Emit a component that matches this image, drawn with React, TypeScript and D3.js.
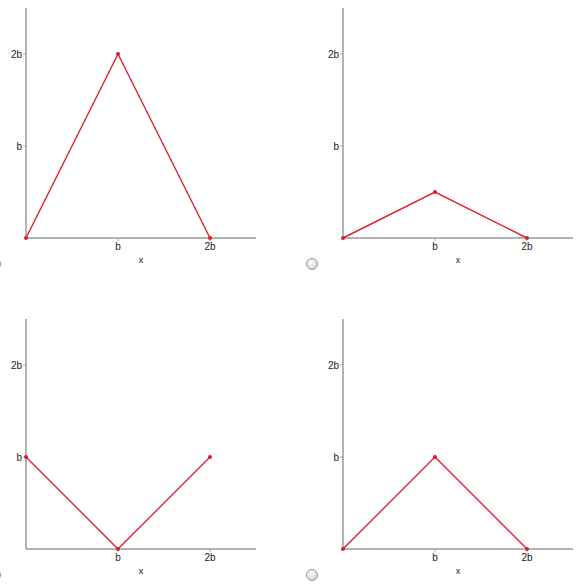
import { useEffect, useRef } from "react";
import * as d3 from "d3";

// tick labels (value in units of b)
const tickValues = [1, 2];
const tickLabels = ["b", "2b"];

// each option: x and y values (in units of b)
const optionA_x = [0, 1, 2];
const optionA_y = [0, 2, 0];
const optionB_x = [0, 1, 2];
const optionB_y = [0, 0.5, 0];
const optionC_x = [0, 1, 2];
const optionC_y = [1, 0, 1];
const optionD_x = [0, 1, 2];
const optionD_y = [0, 1, 0];

const panels = [
  { xs: optionA_x, ys: optionA_y, left: 26, top: 8 },
  { xs: optionB_x, ys: optionB_y, left: 343, top: 8 },
  { xs: optionC_x, ys: optionC_y, left: 26, top: 319 },
  { xs: optionD_x, ys: optionD_y, left: 343, top: 319 },
];

export default function App() {
  const svgRef = useRef<SVGSVGElement>(null);

  useEffect(() => {
    if (!svgRef.current) return;
    const svg = d3.select(svgRef.current);
    svg.selectAll("*").remove();

    const size = 230;
    const axisColor = "#666";
    const red = "#e0202c";

    const defs = svg.append("defs");
    const grad = defs
      .append("radialGradient")
      .attr("id", "radioGrad")
      .attr("cx", "40%")
      .attr("cy", "35%")
      .attr("r", "70%");
    grad.append("stop").attr("offset", "0%").attr("stop-color", "#ffffff");
    grad.append("stop").attr("offset", "100%").attr("stop-color", "#cfcfcf");

    panels.forEach((p) => {
      const g = svg
        .append("g")
        .attr("transform", `translate(${p.left},${p.top})`);

      const x = d3.scaleLinear().domain([0, 2.5]).range([0, size]);
      const y = d3.scaleLinear().domain([0, 2.5]).range([size, 0]);

      // axes lines
      g.append("line")
        .attr("x1", x(0))
        .attr("x2", x(2.5))
        .attr("y1", y(0))
        .attr("y2", y(0))
        .attr("stroke", axisColor)
        .attr("stroke-width", 1);
      g.append("line")
        .attr("x1", x(0))
        .attr("x2", x(0))
        .attr("y1", y(0))
        .attr("y2", y(2.5))
        .attr("stroke", axisColor)
        .attr("stroke-width", 1);

      // y ticks
      tickValues.forEach((v, i) => {
        g.append("line")
          .attr("x1", x(0) - 3)
          .attr("x2", x(0))
          .attr("y1", y(v))
          .attr("y2", y(v))
          .attr("stroke", "#aaa");
        g.append("text")
          .attr("x", x(0) - 4)
          .attr("y", y(v) + 3.5)
          .attr("text-anchor", "end")
          .attr("font-family", "Liberation Sans, Arial, sans-serif")
          .attr("font-size", 10)
          .attr("fill", "#222")
          .text(tickLabels[i]);

        g.append("line")
          .attr("x1", x(v))
          .attr("x2", x(v))
          .attr("y1", y(0))
          .attr("y2", y(0) + 3)
          .attr("stroke", "#aaa");
        g.append("text")
          .attr("x", x(v))
          .attr("y", y(0) + 12)
          .attr("text-anchor", "middle")
          .attr("font-family", "Liberation Sans, Arial, sans-serif")
          .attr("font-size", 10)
          .attr("fill", "#222")
          .text(tickLabels[i]);
      });

      // x axis title
      g.append("text")
        .attr("x", x(1.25))
        .attr("y", y(0) + 25)
        .attr("text-anchor", "middle")
        .attr("font-family", "Liberation Sans, Arial, sans-serif")
        .attr("font-size", 9)
        .attr("fill", "#222")
        .text("x");

      const pts = p.xs.map((v, i) => [v, p.ys[i]] as [number, number]);
      const line = d3
        .line<[number, number]>()
        .x((d) => x(d[0]))
        .y((d) => y(d[1]));

      g.append("path")
        .datum(pts)
        .attr("d", line)
        .attr("fill", "none")
        .attr("stroke", red)
        .attr("stroke-width", 1.4);

      g.selectAll("circle.pt")
        .data(pts)
        .enter()
        .append("circle")
        .attr("class", "pt")
        .attr("cx", (d) => x(d[0]))
        .attr("cy", (d) => y(d[1]))
        .attr("r", 2)
        .attr("fill", "#d42030");

      // radio button left of the panel
      g.append("circle")
        .attr("cx", x(0) - 31)
        .attr("cy", y(0) + 26)
        .attr("r", 5.5)
        .attr("fill", "url(#radioGrad)")
        .attr("stroke", "#999")
        .attr("stroke-width", 1);
    });
  }, []);

  return (
    <svg
      ref={svgRef}
      width={584}
      height={587}
      style={{ position: "absolute", left: 0, top: 0, background: "#fff" }}
    ></svg>
  );
}
